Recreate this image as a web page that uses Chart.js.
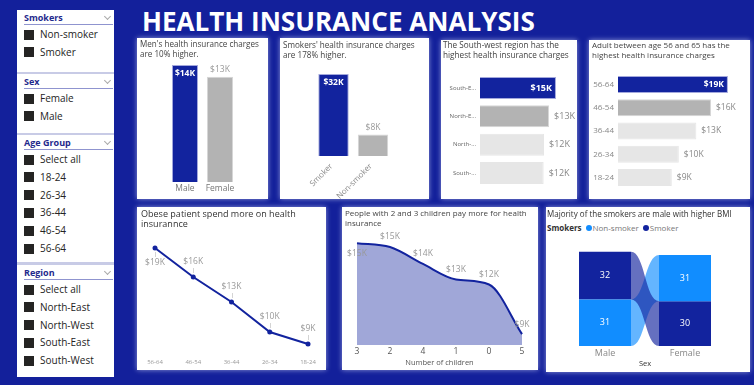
<!DOCTYPE html>
<html>
<head>
<meta charset="utf-8">
<script src="https://cdn.jsdelivr.net/npm/chart.js@4.4.1/dist/chart.umd.min.js"></script>
<style>
  body { margin: 0; width: 754px; height: 385px; background: #13209b; position: relative; overflow: hidden; font-family: "Open Sans", sans-serif; }
  .abs { position: absolute; }
  .card { position: absolute; background: #fff; box-shadow: 0 0 5px rgba(185, 190, 235, 0.75); }
  .card canvas { position: absolute; left: 0; top: 0; }
  .ttl { position: absolute; left: 3px; white-space: nowrap; color: #444; font-size: 8px; line-height: 10px; z-index: 2; }
  #title { left: 142px; top: 8px; font-size: 24px; line-height: 1; font-weight: 700; color: #fff; white-space: nowrap; }
  .slicer { position: absolute; left: 17px; width: 97px; background: #fff; }
  .sh { position: absolute; left: 7px; font-size: 9px; line-height: 12px; font-weight: 700; color: #1f2a8c; }
  .sl { position: absolute; left: 7px; width: 89px; height: 1px; background: #8f94cf; }
  .chev { position: absolute; left: 88px; width: 4px; height: 4px; border-right: 1px solid #aaa; border-bottom: 1px solid #aaa; transform: rotate(45deg); }
  .box { position: absolute; left: 7px; width: 10px; height: 10px; background: #252423; }
  .item { position: absolute; left: 23px; font-size: 10px; line-height: 12px; color: #252423; white-space: nowrap; }
  .legend { position: absolute; left: 1px; top: 15px; font-size: 8px; line-height: 12px; color: #777; white-space: nowrap; }
  .legend b { color: #333; }
  .dot { display: inline-block; width: 6px; height: 6px; border-radius: 50%; margin: 0 1px 0 4px; vertical-align: 0; }
</style>
</head>
<body>
<div id="title" class="abs" data-w="393"><span>HEALTH INSURANCE ANALYSIS</span></div>
<div id="slicers"></div>

<div class="card" style="left:137px;top:38px;width:131px;height:161px">
  <div class="ttl" style="top:1px" data-w="119"><span>Men's health insurance charges</span><br><span>are 10% higher.</span></div>
  <canvas id="c1" width="131" height="161"></canvas>
</div>
<div class="card" style="left:280px;top:38px;width:149px;height:161px">
  <div class="ttl" style="top:2px" data-w="132"><span>Smokers' health insurance charges</span><br><span>are 178% higher.</span></div>
  <canvas id="c2" width="149" height="161"></canvas>
</div>
<div class="card" style="left:441px;top:40px;width:136px;height:159px">
  <div class="ttl" style="top:0px;left:2px" data-w="116"><span>The South-west region has the</span><br><span>highest health insurance charges</span></div>
  <canvas id="c3" width="136" height="159"></canvas>
</div>
<div class="card" style="left:589px;top:40px;width:161px;height:159px">
  <div class="ttl" style="top:0px" data-w="138"><span>Adult between age 56 and 65 has the</span><br><span>highest health insurance charges</span></div>
  <canvas id="c4" width="161" height="159"></canvas>
</div>
<div class="card" style="left:137px;top:207px;width:189px;height:163px">
  <div class="ttl" style="top:2px;left:4px;color:#333" data-w="155"><span>Obese patient spend more on health</span><br><span>insurannce</span></div>
  <canvas id="c5" width="189" height="163"></canvas>
</div>
<div class="card" style="left:342px;top:207px;width:196px;height:163px">
  <div class="ttl" style="top:1px" data-w="182"><span>People with 2 and 3 children pay more for health</span><br><span>insurance</span></div>
  <canvas id="c6" width="196" height="163"></canvas>
</div>
<div class="card" style="left:546px;top:207px;width:204px;height:165px">
  <div class="ttl" style="top:2px;left:1px;color:#333" data-w="185"><span>Majority of the smokers are male with higher BMI</span></div>
  <div class="legend"><b>Smokers</b><span class="dot" style="background:#118dff"></span>Non-smoker<span class="dot" style="background:#12239e"></span>Smoker</div>
  <canvas id="c7" width="204" height="165"></canvas>
</div>

<script>
const NAVY = '#12239e', GRAY = '#b3b3b3', LIGHT = '#e6e6e6', BLUE = '#118dff';
const FONT = "'Open Sans', sans-serif";

// data
const sexLabels = ['Male', 'Female'];
const sexCharges = [13956, 12570];
const smokerLabels = ['Smoker', 'Non-smoker'];
const smokerCharges = [32050, 8434];
const regionLabels = ['South-E...', 'North-E...', 'North-...', 'South-...'];
const regionCharges = [14735, 13406, 12417, 12346];
const ageLabels = ['56-64', '46-54', '36-44', '26-34', '18-24'];
const ageCharges = [18800, 15900, 13400, 10400, 9200];
const obeseLabels = ['56-64', '46-54', '36-44', '26-34', '18-24'];
const obeseCharges = [18800, 15900, 13400, 10400, 9200];
const childrenLabels = ['3', '2', '4', '1', '0', '5'];
const childrenCharges = [15355, 15073, 13850, 12731, 12366, 8786];
const bmiSexes = ['Male', 'Female'];
const bmiNonSmoker = [30.77, 30.54];
const bmiSmoker = [31.50, 29.61];

// slicer panel
const slicers = [
  { name: 'Smokers', top: 10, h: 62, items: ['Non-smoker', 'Smoker'] },
  { name: 'Sex', top: 74, h: 59, items: ['Female', 'Male'] },
  { name: 'Age Group', top: 135, h: 127, items: ['Select all', '18-24', '26-34', '36-44', '46-54', '56-64'] },
  { name: 'Region', top: 265, h: 112, items: ['Select all', 'North-East', 'North-West', 'South-East', 'South-West'] }
];
let html = '<div class="abs" style="left:17px;top:10px;width:97px;height:367px;background:#c8cbe6"></div>';
slicers.forEach(s => {
  html += `<div class="slicer" style="top:${s.top}px;height:${s.h}px">`;
  html += `<div class="sh" style="top:2px">${s.name}</div><div class="chev" style="top:4px"></div>`;
  html += `<div class="sl" style="top:14px"></div>`;
  s.items.forEach((it, i) => {
    const cy = 24.5 + i * 17.8;
    html += `<div class="box" style="top:${cy - 5}px"></div><div class="item" style="top:${cy - 6.5}px">${it}</div>`;
  });
  html += '</div>';
});
document.getElementById('slicers').innerHTML = html;

// fit title widths to the reference
document.querySelectorAll('[data-w]').forEach(el => {
  const line = el.querySelector('span');
  const fs = parseFloat(getComputedStyle(el).fontSize);
  el.style.fontSize = (fs * (+el.dataset.w) / line.getBoundingClientRect().width) + 'px';
});

function text(ctx, s, x, y, font, color, align = 'center', base = 'middle') {
  ctx.save();
  ctx.font = font; ctx.fillStyle = color; ctx.textAlign = align; ctx.textBaseline = base;
  ctx.fillText(s, x, y);
  ctx.restore();
}
const k = v => '$' + Math.round(v / 1000) + 'K';
const rankFill = n => Array.from({ length: n }, (_, i) => i === 0 ? NAVY : i === 1 ? GRAY : LIGHT);
const rankBorder = n => Array.from({ length: n }, (_, i) => i === 0 ? '#a3a8dc' : i === 1 ? '#d6d6d6' : LIGHT);

function base(pad) {
  return {
    responsive: false, animation: false,
    layout: { padding: pad },
    plugins: { legend: { display: false }, tooltip: { enabled: false } }
  };
}

const columnLabels = {
  id: 'columnLabels',
  afterDatasetsDraw(chart, args, o) {
    const ctx = chart.ctx, ds = chart.data.datasets[0];
    chart.getDatasetMeta(0).data.forEach((b, i) => {
      if (i === 0) text(ctx, k(ds.data[i]), b.x, b.y + 8, `bold 8.5px ${FONT}`, '#fff');
      else text(ctx, k(ds.data[i]), b.x, b.y - 7, `8.5px ${FONT}`, '#999');
      const lab = chart.data.labels[i];
      if (o.rotate) {
        ctx.save();
        ctx.translate(b.x - 2, b.base + 9);
        ctx.rotate(-Math.PI / 4);
        text(ctx, lab, 0, 0, `8px ${FONT}`, '#888', 'right');
        ctx.restore();
      } else {
        text(ctx, lab, b.x, b.base + 7, `8.5px ${FONT}`, '#777');
      }
    });
  }
};

const barLabels = {
  id: 'barLabels',
  afterDatasetsDraw(chart, args, o) {
    const ctx = chart.ctx, ds = chart.data.datasets[0], left = chart.chartArea.left;
    chart.getDatasetMeta(0).data.forEach((b, i) => {
      text(ctx, chart.data.labels[i], left - 4, b.y, o.catFont, o.catColor, 'right');
      if (i === 0) text(ctx, k(ds.data[i]), b.x - 4, b.y, `bold ${o.size}px ${FONT}`, '#fff', 'right');
      else text(ctx, k(ds.data[i]), b.x + 5, b.y, `${o.size}px ${FONT}`, '#888', 'left');
    });
  }
};

const pointLabels = {
  id: 'pointLabels',
  afterDatasetsDraw(chart, args, o) {
    const ctx = chart.ctx, ds = chart.data.datasets[0], area = chart.chartArea;
    chart.getDatasetMeta(0).data.forEach((p, i) => {
      const dir = i === 0 ? 1 : -1;
      const y = p.y + dir * o.gap;
      if (o.leader) {
        ctx.save();
        ctx.strokeStyle = '#d4d4d4'; ctx.lineWidth = 1;
        ctx.beginPath();
        ctx.moveTo(Math.round(p.x) + 0.5, p.y + dir * 4);
        ctx.lineTo(Math.round(p.x) + 0.5, y - dir * 6);
        ctx.stroke();
        ctx.restore();
      }
      text(ctx, k(ds.data[i]), p.x, y, `8.5px ${FONT}`, '#999');
      text(ctx, chart.data.labels[i], p.x, o.tickY, o.tickFont, o.tickColor);
    });
    if (o.axisTitle) text(ctx, o.axisTitle, (area.left + area.right) / 2, o.titleY, `7.5px ${FONT}`, '#555');
  }
};

// 1. sex
new Chart(document.getElementById('c1'), {
  type: 'bar',
  data: { labels: sexLabels, datasets: [{ data: sexCharges, backgroundColor: rankFill(2), borderColor: rankBorder(2), borderWidth: 1, barPercentage: 0.743, categoryPercentage: 1 }] },
  options: Object.assign(base({ left: 30.5, right: 30.5, top: 10, bottom: 17 }), {
    scales: { x: { display: false }, y: { display: false, min: 0, max: 16000 } }
  }),
  plugins: [columnLabels]
});

// 2. smoker
const o2 = base({ left: 33.75, right: 36.25, top: 26, bottom: 43 });
o2.plugins.columnLabels = { rotate: true };
o2.scales = { x: { display: false }, y: { display: false, min: 0, max: 36000 } };
new Chart(document.getElementById('c2'), {
  type: 'bar',
  data: { labels: smokerLabels, datasets: [{ data: smokerCharges, backgroundColor: rankFill(2), borderColor: rankBorder(2), borderWidth: 1, barPercentage: 0.77, categoryPercentage: 1 }] },
  options: o2,
  plugins: [columnLabels]
});

// 3. region
const o3 = base({ left: 39, right: 14.5, top: 33.8, bottom: 11.8 });
o3.indexAxis = 'y';
o3.plugins.barLabels = { catFont: `6px ${FONT}`, catColor: '#666', size: 9 };
o3.scales = { x: { display: false, min: 0, max: 16000 }, y: { display: false } };
new Chart(document.getElementById('c3'), {
  type: 'bar',
  data: { labels: regionLabels, datasets: [{ data: regionCharges, backgroundColor: rankFill(4), borderColor: rankBorder(4), borderWidth: 1, barPercentage: 0.776, categoryPercentage: 1 }] },
  options: o3,
  plugins: [barLabels]
});

// 4. age group
const o4 = base({ left: 29, right: 9.2, top: 32.9, bottom: 9.9 });
o4.indexAxis = 'y';
o4.plugins.barLabels = { catFont: `8px ${FONT}`, catColor: '#888', size: 8.5 };
o4.scales = { x: { display: false, min: 0, max: 21000 }, y: { display: false } };
new Chart(document.getElementById('c4'), {
  type: 'bar',
  data: { labels: ageLabels, datasets: [{ data: ageCharges, backgroundColor: rankFill(5), borderColor: rankBorder(5), borderWidth: 1, barPercentage: 0.73, categoryPercentage: 1 }] },
  options: o4,
  plugins: [barLabels]
});

// 5. obese line
const o5 = base({ left: 18, right: 18, top: 29, bottom: 14 });
o5.plugins.pointLabels = { gap: 15, leader: true, tickY: 155, tickFont: `6px ${FONT}`, tickColor: '#999' };
o5.scales = { x: { display: false }, y: { display: false, min: 8000, max: 20000 } };
new Chart(document.getElementById('c5'), {
  type: 'line',
  data: { labels: obeseLabels, datasets: [{ data: obeseCharges, borderColor: NAVY, borderWidth: 2, pointRadius: 2.5, pointBackgroundColor: NAVY, pointBorderWidth: 0, tension: 0 }] },
  options: o5,
  plugins: [pointLabels]
});

// 6. children area
const o6 = base({ left: 15, right: 16, top: 27.2, bottom: 25 });
o6.plugins.pointLabels = { gap: 10, leader: false, tickY: 145, tickFont: `8.5px ${FONT}`, tickColor: '#555', axisTitle: 'Number of children', titleY: 156 };
o6.scales = { x: { display: false }, y: { display: false, min: 8000, max: 16000 } };
new Chart(document.getElementById('c6'), {
  type: 'line',
  data: { labels: childrenLabels, datasets: [{ data: childrenCharges, borderColor: NAVY, borderWidth: 2, pointRadius: 0, fill: 'start', backgroundColor: 'rgba(18,35,158,0.4)', cubicInterpolationMode: 'monotone' }] },
  options: o6,
  plugins: [pointLabels]
});

// 7. ribbon: bmi by sex and smoker, larger value stacked on top
const ribbonSeries = [
  { label: 'Non-smoker', values: bmiNonSmoker, color: BLUE, ribbon: 'rgba(17,141,255,0.65)' },
  { label: 'Smoker', values: bmiSmoker, color: NAVY, ribbon: 'rgba(18,35,158,0.65)' }
];
const ranges = ribbonSeries.map(() => []);
bmiSexes.forEach((_, j) => {
  const order = ribbonSeries.map((s, i) => i).sort((a, b) => ribbonSeries[a].values[j] - ribbonSeries[b].values[j]);
  let acc = 0;
  order.forEach(i => {
    const v = ribbonSeries[i].values[j];
    ranges[i][j] = [acc, acc + v];
    acc += v;
  });
});

const ribbons = {
  id: 'ribbons',
  beforeDatasetsDraw(chart) {
    const ctx = chart.ctx;
    chart.data.datasets.forEach((ds, n) => {
      const [a, b] = chart.getDatasetMeta(n).data;
      const x0 = a.x + a.width / 2, x1 = b.x - b.width / 2, xm = (x0 + x1) / 2;
      const t0 = Math.min(a.y, a.base), b0 = Math.max(a.y, a.base);
      const t1 = Math.min(b.y, b.base), b1 = Math.max(b.y, b.base);
      ctx.save();
      ctx.fillStyle = ribbonSeries[n].ribbon;
      ctx.beginPath();
      ctx.moveTo(x0, t0);
      ctx.bezierCurveTo(xm, t0, xm, t1, x1, t1);
      ctx.lineTo(x1, b1);
      ctx.bezierCurveTo(xm, b1, xm, b0, x0, b0);
      ctx.closePath();
      ctx.fill();
      ctx.restore();
    });
  },
  afterDatasetsDraw(chart) {
    const ctx = chart.ctx, area = chart.chartArea;
    chart.data.datasets.forEach((ds, n) => {
      chart.getDatasetMeta(n).data.forEach((b, j) => {
        text(ctx, String(Math.round(ribbonSeries[n].values[j])), b.x, (b.y + b.base) / 2, `9px ${FONT}`, '#fff');
      });
    });
    chart.getDatasetMeta(0).data.forEach((b, j) => {
      text(ctx, chart.data.labels[j], b.x, area.bottom + 7, `9px ${FONT}`, '#888');
    });
    text(ctx, 'Sex', (area.left + area.right) / 2, area.bottom + 18, `7.5px ${FONT}`, '#333');
  }
};

const o7 = base({ left: 19, right: 25, top: 34.7, bottom: 26 });
o7.scales = { x: { display: false }, y: { display: false, min: 0, max: 69 } };
new Chart(document.getElementById('c7'), {
  type: 'bar',
  data: {
    labels: bmiSexes,
    datasets: ribbonSeries.map((s, i) => ({ label: s.label, data: ranges[i], backgroundColor: s.color, borderWidth: 0, grouped: false, barPercentage: 0.65, categoryPercentage: 1 }))
  },
  options: o7,
  plugins: [ribbons]
});
</script>
</body>
</html>
